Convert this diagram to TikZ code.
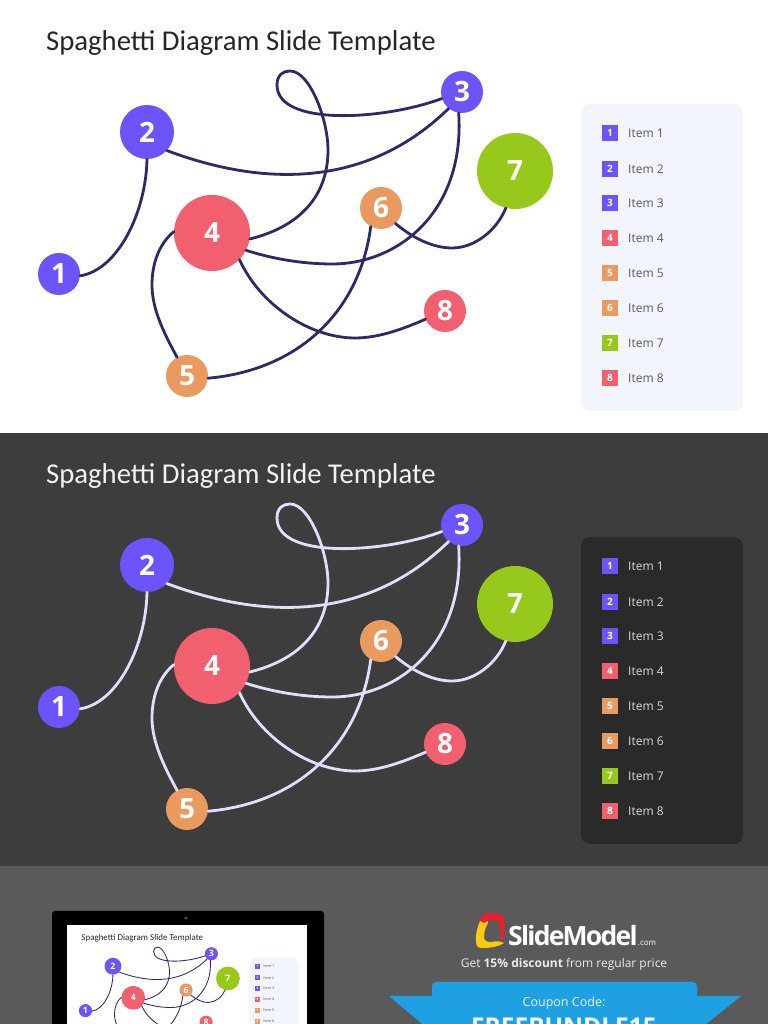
\documentclass[tikz,border=0pt]{standalone}
\usepackage{fontspec}
\setmainfont{Open Sans}
\newfontfamily\titlefont{Carlito}
\definecolor{cpurple}{HTML}{6C54FB}
\definecolor{cred}{HTML}{F25F6E}
\definecolor{corange}{HTML}{E99A5E}
\definecolor{cgreen}{HTML}{97C91C}
\definecolor{cblue}{HTML}{1FA0E3}
\definecolor{cdarkline}{HTML}{2E2A66}
\definecolor{cpaleline}{HTML}{E2DEFF}
\definecolor{clegendlight}{HTML}{F2F5FB}
\definecolor{clegenddark}{HTML}{2A2A2A}
\definecolor{cbgdark}{HTML}{3D3D3D}
\definecolor{cbgmid}{HTML}{5A5A5A}
\definecolor{clogored}{HTML}{E8202E}
\definecolor{clogoyellow}{HTML}{FBC90F}
\tikzset{
  flip/.style={yscale=-1},
  bubble/.style={flip,circle,inner sep=0pt,minimum size=#1,text=white,font=\fontsize{28}{30}\selectfont\bfseries},
  chip/.style={flip,rectangle,inner sep=0pt,minimum size=16,text=white,font=\fontsize{10}{12}\selectfont\bfseries},
  itemlabel/.style={flip,anchor=west,inner sep=0pt,font=\fontsize{12}{14}\selectfont},
  heading/.style={flip,anchor=base west,inner sep=0pt,font=\titlefont\fontsize{28.7}{30}\selectfont},
  strand/.style={line width=#1,line cap=round},
}
% #1 prefix, #2 line colour, #3 legend fill, #4 title colour, #5 item colour, #6 line width
\newcommand{\spaghettipanel}[6]{
  \node[heading,text=#4] (#1title) at (46,51) {Spaghetti Diagram Slide Template};
  \fill[#3,rounded corners=9] (581,104) rectangle (743,411);
  \node[bubble=42,fill=cpurple] (#1n1) at (59,274) {1};
  \node[bubble=54,fill=cpurple] (#1n2) at (147,132) {2};
  \node[bubble=42,fill=cpurple] (#1n3) at (462,92) {3};
  \node[bubble=76,fill=cred] (#1n4) at (212,233) {4};
  \node[bubble=42,fill=corange] (#1n5) at (187,376) {5};
  \node[bubble=42,fill=corange] (#1n6) at (381,208) {6};
  \node[bubble=76,fill=cgreen] (#1n7) at (515,171) {7};
  \node[bubble=42,fill=cred] (#1n8) at (445,311) {8};
  \begin{scope}[strand=#6,draw=#2]
    \draw (#1n1.-5) .. controls (118,270) and (146,212) .. (#1n2.-90);
    \draw (#1n2.-43) .. controls (240,178) and (355,200) .. (#1n3.-129);
    \draw (#1n3.198) .. controls (385,120) and (277,127) .. (277,85)
      .. controls (277,75) and (283,71) .. (290,71)
      .. controls (310,71) and (328,120) .. (328,150)
      .. controls (328,200) and (295,228) .. (#1n4.-9);
    \draw (#1n3.-99) .. controls (465,210) and (400,264) .. (332,264)
      .. controls (300,264) and (270,258) .. (#1n4.-27);
    \draw (#1n4.178) .. controls (160,243) and (152,262) .. (152,285)
      .. controls (152,310) and (165,335) .. (#1n5.118);
    \draw (#1n4.-44) .. controls (260,305) and (310,338) .. (355,338)
      .. controls (380,338) and (405,328) .. (#1n8.203);
    \draw (#1n5.-6) .. controls (300,370) and (360,310) .. (#1n6.-119);
    \draw (#1n6.-47) .. controls (415,240) and (435,248) .. (452,248)
      .. controls (475,248) and (497,230) .. (#1n7.-104);
  \end{scope}
  \foreach \ypos/\num/\col in {133/1/cpurple,169/2/cpurple,203/3/cpurple,238/4/cred,273/5/corange,308/6/corange,343/7/cgreen,378/8/cred}{
    \node[chip,fill=\col] (#1chip\num) at (610,\ypos) {\num};
    \node[itemlabel,text=#5] (#1item\num) at (628,\ypos) {Item \num};
  }
}
\begin{document}
\begin{tikzpicture}[x=1pt,y=1pt]
\useasboundingbox (0,0) rectangle (768,1024);
\clip (0,0) rectangle (768,1024);
\fill[white] (0,1024) rectangle (768,591);
\fill[cbgdark] (0,591) rectangle (768,158);
\fill[cbgmid] (0,158) rectangle (768,0);
% top panel
\begin{scope}[shift={(0,1024)},yscale=-1,transform shape]
  \spaghettipanel{a}{cdarkline}{clegendlight}{black!85}{black!65}{2.8}
\end{scope}
% dark panel
\begin{scope}[shift={(0,591)},yscale=-1,transform shape]
  \spaghettipanel{b}{cpaleline}{clegenddark}{white!95!black}{white!85!black}{2.8}
\end{scope}
% tablet
\fill[black,rounded corners=3] (52,113) rectangle (324,-10);
\fill[black!65] (186,106) circle (1.6);
\fill[white] (67,99) rectangle (307,-10);
\begin{scope}
  \clip (67,99) rectangle (307,0);
  \begin{scope}[shift={(67,99)},scale=.3125,yscale=-1,transform shape]
    \spaghettipanel{c}{cdarkline}{clegendlight}{black!85}{black!65}{.85}
  \end{scope}
\end{scope}
% logo
\begin{scope}[shift={(0,1024)},yscale=-1]
\fill[clogoyellow] (480,921) .. controls (478,926) and (475,934) .. (476,941)
  .. controls (476,946) and (478,948) .. (482,948)
  .. controls (490,948) and (498,947) .. (504,943)
  .. controls (500,941) and (497,941) .. (491,942)
  .. controls (487,942) and (484,941) .. (484,937)
  .. controls (484,932) and (486,926) .. (488,923)
  .. controls (490,921) and (484,919) .. cycle;
\fill[clogored] (480,921) .. controls (481,915) and (485,913) .. (491,913)
  .. controls (496,913) and (501,914) .. (503,916)
  .. controls (505,919) and (505,924) .. (504,936)
  .. controls (503,940) and (502,941) .. (500,941)
  .. controls (501,935) and (500,923) .. (497,921)
  .. controls (492,920) and (487,920) .. (484,923) -- cycle;
\end{scope}
\node[anchor=west,inner sep=0pt,text=white,font=\fontsize{26.5}{28}\selectfont\bfseries] (brand) at (508,88) {\addfontfeature{LetterSpace=-6.6}SlideModel};
\node[anchor=base west,inner sep=0pt,text=white,font=\fontsize{8}{9}\selectfont] (brandcom) at (brand.base east) {.com};
\node[inner sep=0pt,text=white!92!black,font=\fontsize{12}{14}\selectfont] (offer) at (564,60) {Get \textbf{15\% discount} from regular price};
% ribbon
\fill[cblue] (389,28) -- (432,28) -- (432,36) [rounded corners=4] -- (432,42) -- (697,42) [sharp corners] -- (697,28) -- (741,28) -- (694,-10) -- (434,-10) -- cycle;
\node[inner sep=0pt,text=white!92!cblue,font=\fontsize{12.5}{14}\selectfont] (coupon) at (564,21) {Coupon Code:};
\node[inner sep=0pt,anchor=base,text=white,font=\fontsize{24.5}{26}\selectfont\bfseries] (code) at (564,-11.5) {FREEBUNDLE15};
\end{tikzpicture}
\end{document}
